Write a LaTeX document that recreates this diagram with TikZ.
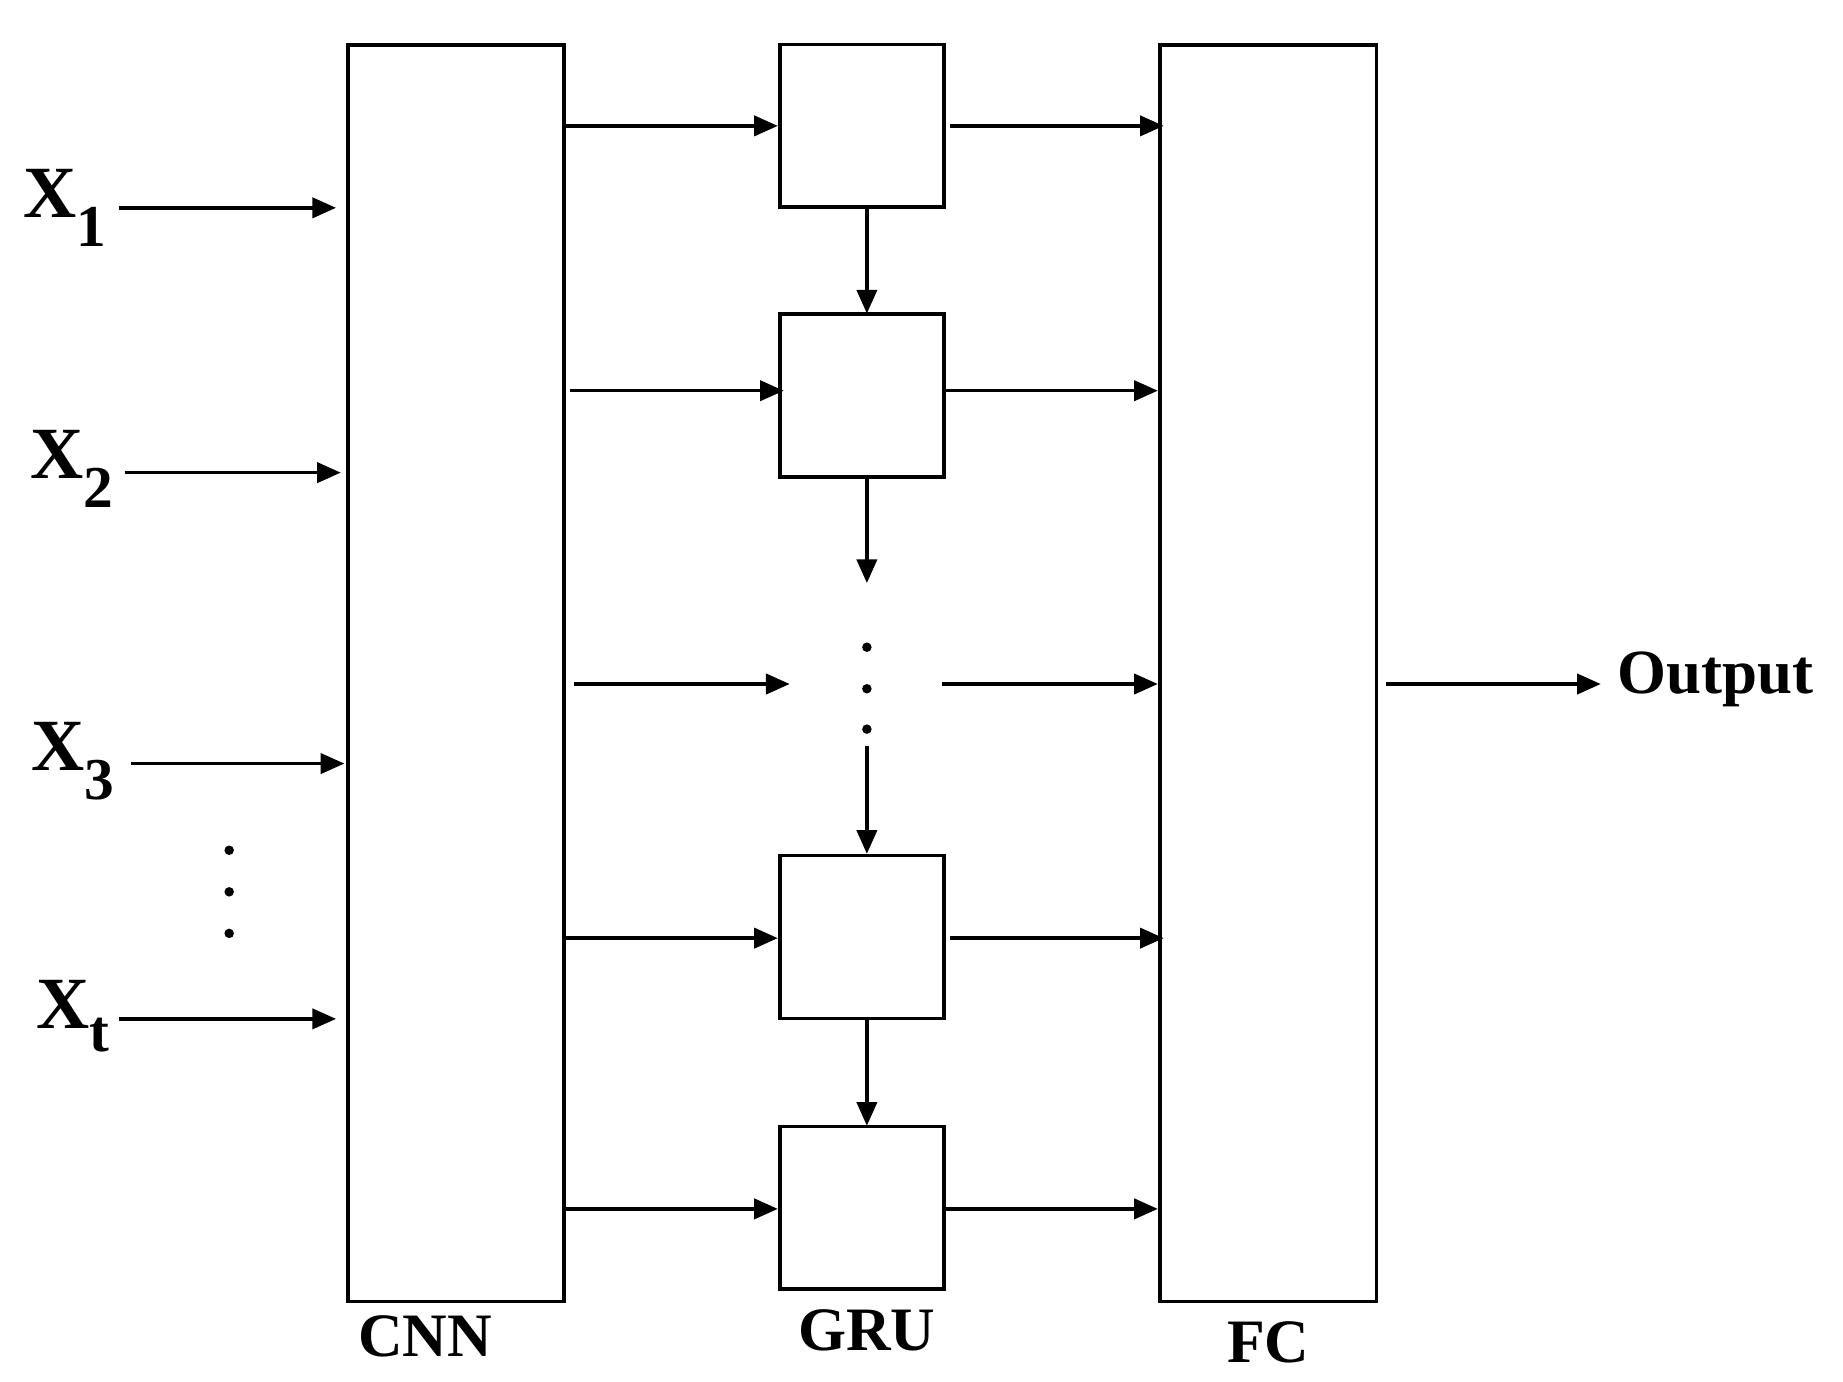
\documentclass[tikz,border=0pt]{standalone}
\usepackage{fontspec}
\setmainfont{Liberation Serif}
\usetikzlibrary{arrows.meta}
\begin{document}
\begin{tikzpicture}[x=1pt,y=-1pt,
  box/.style={draw,line width=3pt,inner sep=0},
  arr/.style={line width=3pt,-{Triangle[length=20pt,width=17pt]}},
  lab/.style={font=\bfseries\fontsize{52}{52}\selectfont},
  xl/.style={font=\bfseries\fontsize{62}{62}\selectfont,inner sep=0},
  dot/.style={circle,fill,inner sep=0,minimum size=8pt}]
\useasboundingbox (0,0) rectangle (1552,1163);
\node[box,minimum width=182pt,minimum height=1058pt] (cnn) at (384,567) {};
\node[box,minimum width=182pt,minimum height=1058pt] (fc) at (1068,567) {};
\foreach \n/\y in {g1/106,g2/333,g3/789,g4/1017}
  \node[box,minimum width=138pt,minimum height=137pt] (\n) at (726,\y) {};
\node[lab] (lc) at (358,1125) {CNN};
\node[lab] (lg) at (730,1120) {GRU};
\node[lab] (lf) at (1068,1130) {FC};
\node[xl,anchor=east] (x1) at (90,175) {X\textsubscript{\fontsize{50}{50}\selectfont 1}};
\node[xl,anchor=east] (x2) at (96,395) {X\textsubscript{\fontsize{50}{50}\selectfont 2}};
\node[xl,anchor=east] (x3) at (97,641) {X\textsubscript{\fontsize{50}{50}\selectfont 3}};
\node[xl,anchor=east] (xt) at (93,856) {X\textsubscript{\fontsize{50}{50}\selectfont t}};
\foreach \n/\y in {d1/716,d2/751,d3/786} \node[dot] (\n) at (193,\y) {};
\foreach \n/\y in {m1/545,m2/580,m3/614} \node[dot] (\n) at (730,\y) {};
\draw[arr] (100,175) -- (283,175);
\draw[arr] (105,398) -- (287,398);
\draw[arr] (110,643) -- (290,643);
\draw[arr] (100,858) -- (283,858);
\draw[arr] (475,106) -- (655,106);
\draw[arr] (480,329) -- (660,329);
\draw[arr] (483,576) -- (665,576);
\draw[arr] (475,790) -- (655,790);
\draw[arr] (475,1018) -- (655,1018);
\draw[arr] (800,106) -- (980,106);
\draw[arr] (795,329) -- (975,329);
\draw[arr] (793,576) -- (975,576);
\draw[arr] (800,790) -- (980,790);
\draw[arr] (795,1018) -- (975,1018);
\draw[arr] (730,175) -- (730,264);
\draw[arr] (730,402) -- (730,491);
\draw[arr] (730,628) -- (730,719);
\draw[arr] (730,858) -- (730,948);
\node[font=\bfseries\fontsize{53}{53}\selectfont,anchor=west,inner sep=0] (out) at (1362,572) {Output};
\draw[arr] (1167,576) -- (1348,576);
\end{tikzpicture}
\end{document}
